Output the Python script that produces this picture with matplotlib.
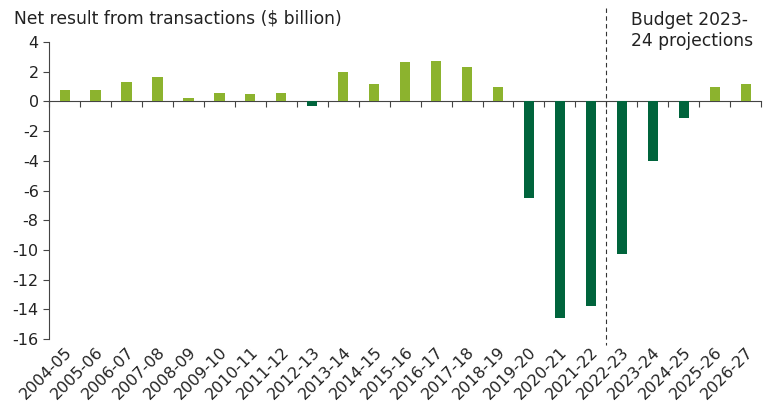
import matplotlib
matplotlib.use("Agg")
import matplotlib.pyplot as plt
import numpy as np

years = ["2004-05", "2005-06", "2006-07", "2007-08", "2008-09", "2009-10",
         "2010-11", "2011-12", "2012-13", "2013-14", "2014-15", "2015-16",
         "2016-17", "2017-18", "2018-19", "2019-20", "2020-21", "2021-22",
         "2022-23", "2023-24", "2024-25", "2025-26", "2026-27"]
net_result = [0.8, 0.8, 1.3, 1.65, 0.2, 0.6, 0.5, 0.55, -0.3, 1.95, 1.2, 2.65,
              2.7, 2.3, 0.95, -6.5, -14.6, -13.8, -10.3, -4.0, -1.1, 0.95, 1.2]
y_ticks = [4, 2, 0, -2, -4, -6, -8, -10, -12, -14, -16]
first_projection = "2022-23"

light_green = "#8cb32e"
dark_green = "#00643c"

plt.rcParams["font.family"] = ["DejaVu Sans"]
fig = plt.figure(figsize=(7.68, 4.12), dpi=100)
ax = fig.add_axes([0.064, 0.177, 0.927, 0.721])

x = np.arange(len(years))
colors = [light_green if v >= 0 else dark_green for v in net_result]
ax.bar(x, net_result, width=0.33, color=colors, zorder=2)

ax.set_xlim(-0.5, len(years) - 0.5)
ax.set_ylim(-16, 4)
ax.set_yticks(y_ticks)
ax.set_yticklabels([str(t) for t in y_ticks], fontsize=11.5, color="#222222")
ax.tick_params(axis="y", direction="out", length=4, color="#444444")

ax.set_xticks(x)
ax.set_xticklabels(years, rotation=45, ha="right", rotation_mode="anchor",
                   fontsize=11.5, color="#222222")
ax.tick_params(axis="x", length=0, pad=4)

for s in ["top", "right", "bottom"]:
    ax.spines[s].set_visible(False)
ax.spines["left"].set_color("#444444")

# zero line with boundary ticks pointing down
zero_frac = (0 - (-16)) / (4 - (-16))
sec = ax.secondary_xaxis(zero_frac)
sec.set_xticks(np.arange(len(years) + 1) - 0.5)
sec.set_xticklabels([])
sec.tick_params(axis="x", direction="in", length=4, color="#444444")
for s in sec.spines.values():
    s.set_color("#444444")

# projections divider
xd = years.index(first_projection) - 0.5
ax.plot([xd, xd], [6.3, -16.4], ls=(0, (4, 3)), color="#333333", lw=0.8,
        clip_on=False, zorder=3)

fig.text(0.018, 0.955, "Net result from transactions ($ billion)",
         fontsize=12.3, va="center", ha="left", color="#222222")
ax.text(xd + 0.8, 4.8, "Budget 2023-\n24 projections", fontsize=12.3,
        va="center", ha="left", color="#222222", linespacing=1.2)

fig.savefig("out.png", dpi=100)
